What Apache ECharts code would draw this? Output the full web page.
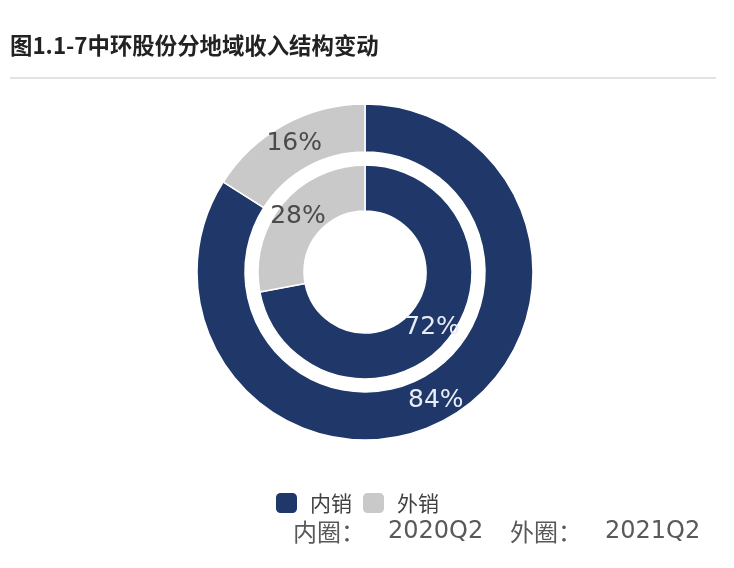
<!DOCTYPE html>
<html>
<head>
<meta charset="utf-8">
<script src="https://cdn.jsdelivr.net/npm/echarts@6/dist/echarts.min.js"></script>
<style>
  html, body { margin: 0; padding: 0; background: #fff; }
  #main { width: 734px; height: 568px; }
</style>
</head>
<body>
<div id="main"></div>
<script>
// 分地域收入结构
var categories = ['内销', '外销'];
var inner2020Q2 = [72, 28];
var outer2021Q2 = [84, 16];
var colors = ['#1f3769', '#c9c9c9'];
var labelColors = ['#e9edf5', '#4a4a4a'];

function buildData(values) {
    return values.map(function (v, i) {
        return {
            name: categories[i],
            value: v,
            label: { color: labelColors[i] }
        };
    });
}

var chart = echarts.init(document.getElementById('main'));
var option = {
    color: colors,
    title: [
        {
            text: '图1.1-7中环股份分地域收入结构变动',
            left: 5,
            top: 29,
            textStyle: {
                fontFamily: 'Noto Sans CJK SC',
                fontSize: 22.4,
                fontWeight: 'bold',
                color: '#222'
            }
        },
        {
            text: '{a|内圈：}{b|2020Q2}{a|外圈：}{b|2021Q2}',
            left: 288,
            top: 515,
            textStyle: {
                fontWeight: 'normal',
                rich: {
                    a: {
                        fontFamily: 'Noto Sans CJK SC',
                        fontSize: 24,
                        fontWeight: 'normal',
                        color: '#595959',
                        width: 95,
                        verticalAlign: 'middle'
                    },
                    b: {
                        fontFamily: 'DejaVu Sans',
                        fontSize: 24,
                        fontWeight: 'normal',
                        color: '#595959',
                        width: 122,
                        verticalAlign: 'middle'
                    }
                }
            }
        }
    ],
    graphic: [
        {
            type: 'line',
            shape: { x1: 10, y1: 78, x2: 716, y2: 78 },
            style: { stroke: '#e3e3e3', lineWidth: 2 }
        }
    ],
    legend: {
        data: categories,
        left: 269,
        top: 486,
        icon: 'roundRect',
        itemWidth: 23,
        itemHeight: 22,
        itemGap: 9,
        textStyle: {
            fontFamily: 'Noto Sans CJK SC',
            fontSize: 21,
            color: '#404040',
            padding: [0, 0, 0, 7]
        }
    },
    series: [
        {
            name: '2020Q2',
            type: 'pie',
            center: [365, 272],
            radius: [61, 107],
            startAngle: 90,
            clockwise: true,
            avoidLabelOverlap: false,
            itemStyle: { borderColor: '#fff', borderWidth: 1.5 },
            label: {
                position: 'inside',
                formatter: '{c}%',
                fontFamily: 'DejaVu Sans',
                fontSize: 25
            },
            labelLine: { show: false },
            emphasis: { disabled: true },
            data: buildData(inner2020Q2)
        },
        {
            name: '2021Q2',
            type: 'pie',
            center: [365, 272],
            radius: [120, 168],
            startAngle: 90,
            clockwise: true,
            avoidLabelOverlap: false,
            itemStyle: { borderColor: '#fff', borderWidth: 1.5 },
            label: {
                position: 'inside',
                formatter: '{c}%',
                fontFamily: 'DejaVu Sans',
                fontSize: 25
            },
            labelLine: { show: false },
            emphasis: { disabled: true },
            data: buildData(outer2021Q2)
        }
    ]
};
chart.setOption(option);
</script>
</body>
</html>
